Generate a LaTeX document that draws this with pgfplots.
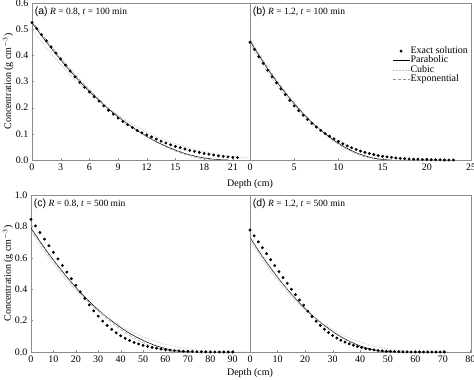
\documentclass[border=0pt]{standalone}
\usepackage{pgfplots}
\pgfplotsset{compat=1.18}
\usepackage{fontspec}
\setmainfont{Liberation Serif}
\setsansfont{Liberation Sans}
\definecolor{axgray}{RGB}{140,140,140}
\pgfplotsset{
  panel/.style={
    scale only axis, height=157pt,
    font=\fontsize{10}{12}\selectfont,
    axis line style={draw=axgray, line width=0.6pt},
    tick style={draw=axgray}, tick align=inside, major tick length=2pt,
    xtick pos=bottom, ytick pos=left,
    /pgf/number format/assume math mode=true,
    scaled ticks=false, ymin=0, xmin=0, clip=true,
  },
  exact/.style={only marks, mark=*, mark size=1.25pt, black},
  para/.style={no marks, black, line width=0.5pt, smooth},
  cubic/.style={no marks, gray!50, line width=0.6pt, dash pattern=on 0.7pt off 0.8pt, smooth},
  expo/.style={no marks, gray!85, line width=0.5pt, dash pattern=on 3pt off 2pt, smooth},
}
\begin{document}
\begin{tikzpicture}
% ---------------- (a)
\begin{axis}[panel, at={(32pt,220pt)}, anchor=south west, width=218pt,
  xmax=22.8, ymax=0.6, xtick={0,3,6,9,12,15,18,21},
  ytick={0,0.1,0.2,0.3,0.4,0.5,0.6},
  yticklabel style={/pgf/number format/.cd, fixed, fixed zerofill, precision=1},
  ylabel={Concentration (g cm$^{-3}$)},
  ylabel style={at={(rel axis cs:-0.11,0.5)}, anchor=center, rotate=0},
  xlabel={Depth (cm)},
  xlabel style={at={(rel axis cs:1,-0.153)}, anchor=center},
]
\addplot[exact] coordinates {(0,0.525)(0.5,0.502)(1,0.479)(1.5,0.456)(2,0.432)(2.5,0.409)(3,0.386)(3.5,0.363)(4,0.340)(4.5,0.318)(5,0.297)(5.5,0.278)(6,0.260)(6.5,0.242)(7,0.225)(7.5,0.207)(8,0.190)(8.5,0.175)(9,0.160)(9.5,0.147)(10,0.135)(10.5,0.124)(11,0.113)(11.5,0.104)(12,0.096)(12.5,0.088)(13,0.080)(13.5,0.072)(14,0.065)(14.5,0.058)(15,0.052)(15.5,0.047)(16,0.042)(16.5,0.037)(17,0.033)(17.5,0.029)(18,0.025)(18.5,0.022)(19,0.019)(19.5,0.016)(20,0.014)(20.5,0.012)(21,0.010)(21.5,0.009)};
\addplot[para] coordinates {(0,0.525)(1,0.475)(2,0.428)(3,0.383)(4,0.340)(5,0.300)(6,0.263)(7,0.228)(8,0.195)(9,0.165)(10,0.138)(11,0.113)(12,0.090)(13,0.070)(14,0.053)(15,0.038)(16,0.025)(17,0.015)(18,0.008)(19,0.003)(20,0.0003)(20.5,0)};
\addplot[cubic] coordinates {(0,0.500)(1,0.452)(2,0.407)(3,0.365)(4,0.325)(5,0.289)(6,0.256)(7,0.225)(8,0.197)(9,0.172)(10,0.148)(11,0.127)(12,0.108)(13,0.091)(14,0.076)(15,0.0625)(16,0.051)(17,0.041)(18,0.032)(19,0.025)(20,0.0185)(21,0.0135)(22,0.0095)(22.8,0.0069)};
\addplot[expo] coordinates {(0,0.532)(1,0.483)(2,0.436)(3,0.391)(4,0.348)(5,0.307)(6,0.269)(7,0.233)(8,0.199)(9,0.168)(10,0.139)(11,0.113)(12,0.089)(13,0.068)(14,0.050)(15,0.034)(16,0.021)(17,0.011)(18,0.004)(19,0.0005)(19.3,0)};
\node[anchor=north west, inner sep=0pt] at (rel axis cs:0.012,0.975)
  {{\sffamily\fontsize{10.5}{12}\selectfont (a)} \fontsize{9.5}{11}\selectfont\textit{R} = 0.8, \textit{t} = 100 min};
\end{axis}
% ---------------- (b)
\begin{axis}[panel, at={(250pt,220pt)}, anchor=south west, width=221pt,
  xmax=25, ymax=0.6, xtick={0,5,10,15,20,25}, ytick=\empty,
  legend style={at={(rel axis cs:0.99,0.725)}, anchor=north east, draw=none, fill=none,
    inner sep=0pt, row sep=0pt,
    nodes={inner sep=0.6pt, text height=6.6pt, text depth=1.6pt},
    font=\fontsize{10}{10}\selectfont},
  legend cell align=left,
]
\addplot[exact] coordinates {(0,0.450)(0.5,0.423)(1,0.395)(1.5,0.369)(2,0.343)(2.5,0.318)(3,0.295)(3.5,0.272)(4,0.250)(4.5,0.228)(5,0.207)(5.5,0.188)(6,0.171)(6.5,0.155)(7,0.140)(7.5,0.126)(8,0.113)(8.5,0.101)(9,0.091)(9.5,0.081)(10,0.071)(10.5,0.062)(11,0.054)(11.5,0.047)(12,0.040)(12.5,0.034)(13,0.029)(13.5,0.025)(14,0.021)(14.5,0.017)(15,0.014)(15.5,0.012)(16,0.010)(16.5,0.008)(17,0.006)(17.5,0.005)(18,0.004)(18.5,0.003)(19,0.003)(19.5,0.002)(20,0.002)(20.5,0.001)(21,0.001)(21.5,0.001)(22,0)(22.5,0)(23,0)};
\addlegendentry{Exact solution}
\addplot[para] coordinates {(0,0.455)(1,0.400)(2,0.348)(3,0.300)(4,0.256)(5,0.215)(6,0.178)(7,0.144)(8,0.114)(9,0.087)(10,0.064)(11,0.044)(12,0.028)(13,0.016)(14,0.007)(15,0.002)(16,0)};
\addlegendentry{Parabolic}
\addplot[cubic] coordinates {(0,0.445)(1,0.387)(2,0.334)(3,0.287)(4,0.244)(5,0.205)(6,0.171)(7,0.141)(8,0.115)(9,0.092)(10,0.072)(11,0.056)(12,0.042)(13,0.030)(14,0.021)(15,0.014)(16,0.009)(17,0.005)(18,0.0027)(19,0.0011)(20,0.0003)(22,0)};
\addlegendentry{Cubic}
\addplot[expo] coordinates {(0,0.462)(1,0.407)(2,0.355)(3,0.306)(4,0.261)(5,0.219)(6,0.180)(7,0.145)(8,0.113)(9,0.085)(10,0.060)(11,0.040)(12,0.024)(13,0.012)(14,0.004)(15,0.0005)(15.3,0)};
\addlegendentry{Exponential}
\node[anchor=north west, inner sep=0pt] at (rel axis cs:0.012,0.975)
  {{\sffamily\fontsize{10.5}{12}\selectfont (b)} \fontsize{9.5}{11}\selectfont\textit{R} = 1.2, \textit{t} = 100 min};
\end{axis}
% ---------------- (c)
\begin{axis}[panel, at={(31pt,28pt)}, anchor=south west, width=219pt,
  xmax=97.7, ymax=1.0, xtick={0,10,20,30,40,50,60,70,80,90},
  ytick={0,0.2,0.4,0.6,0.8,1.0},
  yticklabel style={/pgf/number format/.cd, fixed, fixed zerofill, precision=1},
  ylabel={Concentration (g cm$^{-3}$)},
  ylabel style={at={(rel axis cs:-0.105,0.5)}, anchor=center, rotate=0},
  xlabel={Depth (cm)},
  xlabel style={at={(rel axis cs:1,-0.135)}, anchor=center},
]
\addplot[exact] coordinates {(0,0.845)(2,0.803)(4,0.761)(6,0.719)(8,0.677)(10,0.635)(12,0.593)(14,0.551)(16,0.509)(18,0.467)(20,0.425)(22,0.383)(24,0.341)(26,0.300)(28,0.262)(30,0.228)(32,0.197)(34,0.169)(36,0.144)(38,0.122)(40,0.103)(42,0.087)(44,0.073)(46,0.061)(48,0.051)(50,0.042)(52,0.035)(54,0.029)(56,0.024)(58,0.019)(60,0.015)(62,0.012)(64,0.009)(66,0.007)(68,0.005)(70,0.004)(72,0.003)(74,0.002)(76,0.001)(78,0.001)(80,0)(82,0)(84,0)(86,0)(88,0)(90,0)};
\addplot[para] coordinates {(0,0.790)(4,0.705)(8,0.624)(12,0.549)(16,0.478)(20,0.412)(24,0.351)(28,0.295)(32,0.244)(36,0.198)(40,0.156)(44,0.119)(48,0.088)(52,0.061)(56,0.039)(60,0.022)(64,0.0098)(68,0.0024)(72,0)};
\addplot[cubic] coordinates {(0,0.770)(4,0.681)(8,0.600)(12,0.525)(16,0.456)(20,0.394)(24,0.338)(28,0.287)(32,0.242)(36,0.202)(40,0.166)(44,0.135)(48,0.108)(52,0.085)(56,0.066)(60,0.049)(64,0.036)(68,0.025)(72,0.017)(76,0.011)(80,0.006)(84,0.003)(88,0.0013)(92,0.0004)(96,0)};
\addplot[expo] coordinates {(0,0.780)(4,0.697)(8,0.617)(12,0.543)(16,0.472)(20,0.406)(24,0.344)(28,0.287)(32,0.235)(36,0.187)(40,0.144)(44,0.106)(48,0.074)(52,0.047)(56,0.026)(60,0.011)(64,0.002)(66,0)};
\node[anchor=north west, inner sep=0pt] at (rel axis cs:0.012,0.975)
  {{\sffamily\fontsize{10.5}{12}\selectfont (c)} \fontsize{9.5}{11}\selectfont\textit{R} = 0.8, \textit{t} = 500 min};
\end{axis}
% ---------------- (d)
\begin{axis}[panel, at={(250pt,28pt)}, anchor=south west, width=221pt,
  xmax=80.2, ymax=1.0, xtick={0,10,20,30,40,50,60,70,80}, ytick=\empty,
]
\addplot[exact] coordinates {(0,0.777)(1.5,0.740)(3,0.702)(4.5,0.664)(6,0.626)(7.5,0.588)(9,0.550)(10.5,0.512)(12,0.474)(13.5,0.437)(15,0.400)(16.5,0.365)(18,0.331)(19.5,0.299)(21,0.260)(22.5,0.226)(24,0.196)(25.5,0.169)(27,0.145)(28.5,0.124)(30,0.105)(31.5,0.089)(33,0.075)(34.5,0.063)(36,0.052)(37.5,0.043)(39,0.035)(40.5,0.028)(42,0.022)(43.5,0.017)(45,0.013)(46.5,0.010)(48,0.007)(49.5,0.005)(51,0.004)(52.5,0.003)(54,0.002)(55.5,0.001)(57,0.001)(58.5,0)(60,0)(61.5,0)(63,0)(64.5,0)(66,0)(67.5,0)(69,0)(70.5,0)};
\addplot[para] coordinates {(0,0.730)(4,0.622)(8,0.523)(12,0.432)(16,0.350)(20,0.276)(24,0.212)(28,0.156)(32,0.108)(36,0.069)(40,0.039)(44,0.017)(48,0.004)(52,0)};
\addplot[cubic] coordinates {(0,0.715)(4,0.602)(8,0.502)(12,0.414)(16,0.336)(20,0.269)(24,0.212)(28,0.163)(32,0.123)(36,0.089)(40,0.063)(44,0.042)(48,0.026)(52,0.015)(56,0.008)(60,0.003)(64,0.001)(68,0.0002)(72,0)};
\addplot[expo] coordinates {(0,0.725)(4,0.618)(8,0.520)(12,0.430)(16,0.348)(20,0.274)(24,0.209)(28,0.152)(32,0.104)(36,0.065)(40,0.035)(44,0.013)(48,0.002)(49,0)};
\node[anchor=north west, inner sep=0pt] at (rel axis cs:0.012,0.975)
  {{\sffamily\fontsize{10.5}{12}\selectfont (d)} \fontsize{9.5}{11}\selectfont\textit{R} = 1.2, \textit{t} = 500 min};
\end{axis}
\pgfresetboundingbox
\path[use as bounding box] (0,0) rectangle (474pt,380pt);
\end{tikzpicture}
\end{document}
